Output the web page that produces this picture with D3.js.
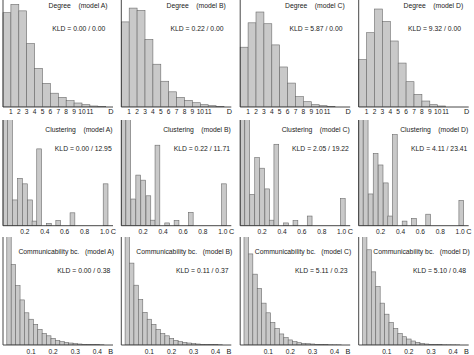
<!DOCTYPE html>
<html><head><meta charset="utf-8">
<script src="https://cdn.jsdelivr.net/npm/d3@7"></script>
<style>
body{margin:0;background:#fff}
svg{display:block}
text{font-family:"Liberation Sans",Arial,sans-serif;fill:#1a1a1a;white-space:pre}
</style>
</head><body>
<svg id="chart" width="474" height="355"></svg>
<script>
// ---------- data ----------
const models = ["A", "B", "C", "D"];

// Degree histogram: bins (k-1, k], percent of nodes
const degreeBins = [1, 2, 3, 4, 5, 6, 7, 8, 9, 10, 11, 12, 13];
const degreeA = [20.5, 22.3, 20.9, 13.8, 8.4, 5.15, 3.0, 2.1, 1.37, 0.87, 0.5, 0.22, 0.07];
const degreeB = [18.5, 21.5, 21.0, 14.7, 9.3, 5.6, 3.3, 2.1, 1.45, 0.93, 0.5, 0.28, 0.07];
const degreeC = [13.0, 18.3, 20.65, 18.1, 13.5, 8.7, 5.2, 2.25, 1.15, 0.5, 0.28, 0.15];
const degreeD = [10.3, 16.15, 21.3, 18.6, 14.35, 9.55, 5.5, 2.75, 1.3, 0.5, 0.22];
const degreeTicks = [1, 2, 3, 4, 5, 6, 7, 8, 9, 10, 11];

// Clustering histogram: bin centres, percent of nodes
const clusterBins = [0, 0.05, 0.1, 0.15, 0.2, 0.252, 0.296, 0.343, 0.441, 0.535, 0.678, 1.011];
const clusterA = [38, 26, 5.6, 10.3, 9.1, 5.6, 1.0, 16.7, 0.5, 1.15, 2.8, 9.1];
const clusterB = [38, 26, 5.8, 11.0, 9.9, 6.5, 1.2, 17.5, 0.6, 1.15, 2.9, 9.1];
const clusterC = [38, 26, 6.8, 14.8, 12.5, 8.0, 1.2, 17.7, 0.6, 1.1, 2.1, 5.9];
const clusterD = [38, 26, 6.9, 15.7, 13.2, 9.3, 2.1, 19.8, 1.0, 1.6, 2.5, 5.5];
const clusterTicks = [0.2, 0.4, 0.6, 0.8, 1.0];

// Communicability betweenness histogram: bin centres, percent of nodes
const commBins = [0, 0.02, 0.04, 0.06, 0.08, 0.10, 0.12, 0.14, 0.16, 0.18, 0.20,
                  0.22, 0.24, 0.26, 0.28, 0.30, 0.32, 0.34, 0.36, 0.38, 0.40, 0.42];
const commA = [35, 17.5, 12.9, 9.8, 7.0, 5.6, 4.5, 3.4, 2.5, 2.0, 1.45, 1.0, 0.72, 0.58, 0.43, 0.29, 0.22, 0.15, 0.11, 0.09, 0.07, 0.05];
const commB = [35, 17.8, 13.0, 9.9, 7.1, 5.6, 4.5, 3.4, 2.5, 2.0, 1.45, 1.0, 0.72, 0.58, 0.43, 0.29, 0.22, 0.15, 0.11, 0.09, 0.07, 0.05];
const commC = [35, 19.8, 15.4, 12.3, 9.1, 7.0, 4.9, 3.6, 2.4, 1.6, 1.1, 0.72, 0.5, 0.37, 0.28, 0.22, 0.15, 0.11, 0.07, 0.05, 0.04, 0.03];
const commD = [35, 20.7, 15.9, 12.7, 9.1, 6.7, 4.9, 3.6, 2.5, 1.8, 1.3, 0.87, 0.58, 0.37, 0.22, 0.15, 0.11, 0.07, 0.05, 0.04, 0.03, 0.02];
const commTicks = [0.1, 0.2, 0.3, 0.4];

const kldDegree = ["0.00 / 0.00", "0.22 / 0.00", "5.87 / 0.00", "9.32 / 0.00"];
const kldCluster = ["0.00 / 12.95", "0.22 / 11.71", "2.05 / 19.22", "4.11 / 23.41"];
const kldComm = ["0.00 / 0.38", "0.11 / 0.37", "5.11 / 0.23", "5.10 / 0.48"];

// ---------- layout ----------
const colX = [3, 121.3, 240.2, 358.7];
const pxPerUnit = 4.6;

const rows = [
  { name: "Degree    ", letter: "D", top: 0, axisY: 107, bins: degreeBins, width: 1, center: k => k - 0.5,
    series: [degreeA, degreeB, degreeC, degreeD], ticks: degreeTicks, tickFmt: d => String(d),
    kld: kldDegree, domain: [0, 14], zeroOff: 0, span: 110.6,
    titleEnd: 104.5, titleY: 7.5, kldEnd: 102.3, kldY: 31, tickDy: 7, letterOff: 108 },
  { name: "Clustering    ", letter: "C", top: 120, axisY: 225.7, bins: clusterBins, width: 0.048, center: c => c,
    series: [clusterA, clusterB, clusterC, clusterD], ticks: clusterTicks, tickFmt: d3.format(".1f"),
    kld: kldCluster, domain: [0, 1.1], zeroOff: 2, span: 109.45,
    titleEnd: 109.5, titleY: 132.3, kldEnd: 108.7, kldY: 150.7, tickDy: 8, letterOff: 110.3 },
  { name: "Communicability bc.   ", letter: "B", top: 237, axisY: 345, bins: commBins, width: 0.02, center: c => c,
    series: [commA, commB, commC, commD], ticks: commTicks, tickFmt: d3.format(".1f"),
    kld: kldComm, domain: [0, 0.5], zeroOff: 6, span: 110.5,
    titleEnd: 111, titleY: 254, kldEnd: 107.3, kldY: 273, tickDy: 8.5, letterOff: 107.7 }
];

const svg = d3.select("#chart");
const defs = svg.append("defs");

rows.forEach((row, ri) => {
  defs.append("clipPath").attr("id", "clip" + ri)
    .append("rect").attr("x", 0).attr("y", row.top).attr("width", 474).attr("height", row.axisY - row.top);

  const y = d3.scaleLinear().domain([0, (row.axisY - row.top) / pxPerUnit]).range([row.axisY, row.top]);

  models.forEach((m, ci) => {
    const x0 = colX[ci];
    const x = d3.scaleLinear().domain(row.domain).range([x0 + row.zeroOff, x0 + row.zeroOff + row.span]);
    const g = svg.append("g");
    const vals = row.series[ci];
    const data = vals.map((v, i) => ({ c: row.center(row.bins[i]), v }));

    g.append("g").attr("clip-path", `url(#clip${ri})`)
      .selectAll("rect").data(data).join("rect")
      .attr("x", d => Math.max(x(d.c - row.width / 2), x0))
      .attr("width", d => x(d.c + row.width / 2) - Math.max(x(d.c - row.width / 2), x0))
      .attr("y", d => y(d.v))
      .attr("height", d => row.axisY - y(d.v))
      .attr("fill", "#c9c9c9")
      .attr("stroke", "#6a6a6a")
      .attr("stroke-width", 0.6);

    // axes lines
    g.append("line").attr("x1", x0).attr("x2", x0 + 110).attr("y1", row.axisY).attr("y2", row.axisY)
      .attr("stroke", "#333").attr("stroke-width", 0.9);
    g.append("line").attr("x1", x0).attr("x2", x0).attr("y1", row.top).attr("y2", row.axisY)
      .attr("stroke", "#333").attr("stroke-width", 0.9);

    // tick labels
    g.selectAll("text.tick").data(row.ticks).join("text")
      .attr("class", "tick")
      .attr("x", d => x(d)).attr("y", row.axisY + row.tickDy)
      .attr("text-anchor", "middle").attr("font-size", 6.6)
      .text(row.tickFmt);

    g.append("text").attr("x", x0 + row.letterOff).attr("y", row.axisY + row.tickDy)
      .attr("text-anchor", "middle").attr("font-size", 7.3).text(row.letter);

    // title and KLD
    g.append("text").attr("x", x0 + row.titleEnd).attr("y", row.titleY)
      .attr("text-anchor", "end").attr("font-size", 6.8)
      .attr("xml:space", "preserve")
      .text(row.name + "(model " + m + ")");
    g.append("text").attr("x", x0 + row.kldEnd).attr("y", row.kldY)
      .attr("text-anchor", "end").attr("font-size", 6.8)
      .text("KLD = " + row.kld[ci]);
  });
});
</script>
</body></html>
